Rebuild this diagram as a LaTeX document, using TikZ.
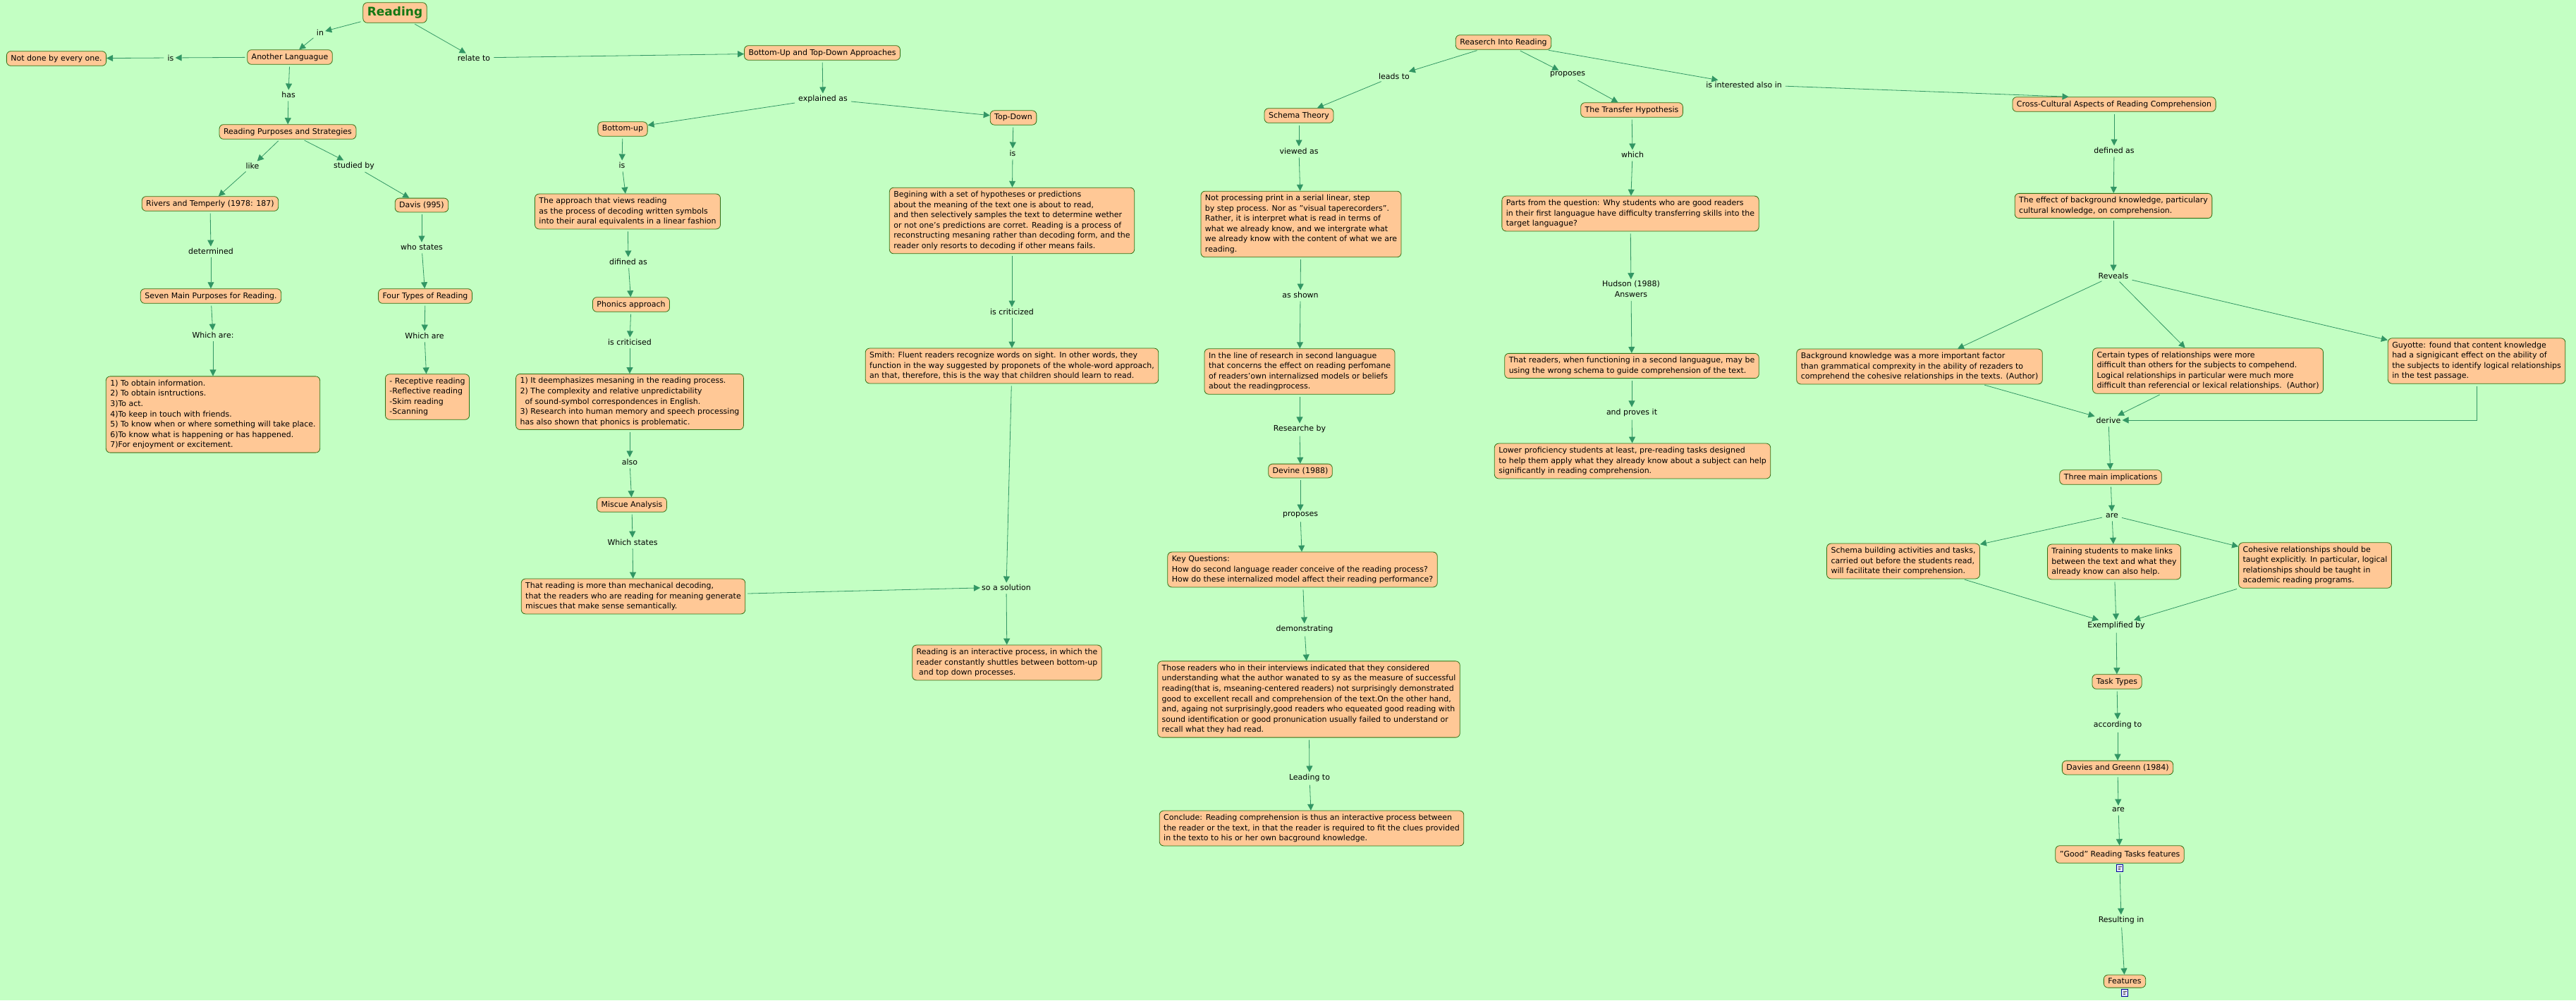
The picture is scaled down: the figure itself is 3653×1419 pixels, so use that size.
\documentclass[tikz,border=0pt]{standalone}
\usepackage{fontspec}
\setmainfont{DejaVu Sans}
\usetikzlibrary{arrows.meta}
\definecolor{bg}{RGB}{195,255,195}
\definecolor{boxfill}{RGB}{255,200,150}
\definecolor{boxline}{RGB}{50,110,20}
\definecolor{arrcol}{RGB}{50,150,100}
\definecolor{titlecol}{RGB}{20,120,20}
\newcommand{\fs}{\fontsize{11}{14.6}\selectfont}
\begin{document}
\begin{tikzpicture}[x=1pt,y=-1pt,
 box/.style={draw=boxline,fill=boxfill,rounded corners=6pt,align=left,inner xsep=6pt,inner ysep=5pt,font=\fs,line width=0.8pt},
 lbl/.style={inner sep=2pt,font=\fs,align=center},
 arr/.style={-{Triangle[length=9pt,width=9pt]},draw=arrcol,line width=0.8pt,shorten <=3pt},
 icon/.style={draw=blue!60!black,fill=blue!10,minimum width=9pt,minimum height=10pt,inner sep=0pt,line width=0.6pt}]
\fill[bg] (0,0) rectangle (3653,1419);
\useasboundingbox (0,0) rectangle (3653,1419);
% left part
\node[box,font=\fontsize{17}{20}\selectfont\bfseries,text=titlecol,inner ysep=6pt] (reading) at (560,18) {Reading};
\node[lbl] (in) at (454,46) {in};
\node[box] (another) at (411,81) {Another Languague};
\node[lbl] (is1) at (242,82) {is};
\node[box] (notdone) at (80,83) {Not done by every one.};
\node[lbl] (relate) at (672,82) {relate to};
\node[lbl] (has) at (409,134) {has};
\node[box] (rps) at (408,187) {Reading Purposes and Strategies};
\node[lbl] (like) at (358,235) {like};
\node[lbl] (studied) at (502,235) {studied by};
\node[box] (rivers) at (298,289) {Rivers and Temperly (1978: 187)};
\node[box] (davis) at (598,291) {Davis (995)};
\node[lbl] (determined) at (299,356) {determined};
\node[lbl] (whostates) at (598,350) {who states};
\node[box] (seven) at (299,420) {Seven Main Purposes for Reading.};
\node[box] (four) at (603,420) {Four Types of Reading};
\node[lbl] (whichare1) at (302,475) {Which are:};
\node[lbl] (whichare2) at (602,476) {Which are};
\node[box] (list7) at (302,588) {1) To obtain information.\\2) To obtain isntructions.\\3)To act.\\4)To keep in touch with friends.\\5) To know when or where something will take place.\\6)To know what is happening or has happened.\\7)For enjoyment or excitement.};
\node[box] (list4) at (606,563) {- Receptive reading\\-Reflective reading\\-Skim reading\\-Scanning};
% bottom-up / top-down
\node[box] (butd) at (1166,75) {Bottom-Up and Top-Down Approaches};
\node[lbl] (explained) at (1167,140) {explained as};
\node[box] (bu) at (883,183) {Bottom-up};
\node[box] (td) at (1437,167) {Top-Down};
\node[lbl] (is2) at (882,234) {is};
\node[lbl] (is3) at (1436,217) {is};
\node[box] (buapp) at (890,300) {The approach that views reading\\as the process of decoding written symbols\\into their aural equivalents in a linear fashion};
\node[box] (tdbox) at (1435,313) {Begining with a set of hypotheses or predictions\\about the meaning of the text one is about to read,\\and then selectively samples the text to determine wether\\or not one's predictions are corret. Reading is a process of\\reconstructing mesaning rather than decoding form, and the\\reader only resorts to decoding if other means fails.};
\node[lbl] (difined) at (891,371) {difined as};
\node[box] (phonics) at (895,432) {Phonics approach};
\node[lbl] (iscrit) at (1435,442) {is criticized};
\node[lbl] (iscrit2) at (893,485) {is criticised};
\node[box] (crit) at (893,570) {1) It deemphasizes mesaning in the reading process.\\2) The complexity and relative unpredictability\\\ \ of sound-symbol correspondences in English.\\3) Research into human memory and speech processing\\has also shown that phonics is problematic.};
\node[box] (smith) at (1435,519) {Smith: Fluent readers recognize words on sight. In other words, they\\function in the way suggested by proponets of the whole-word approach,\\an that, therefore, this is the way that children should learn to read.};
\node[lbl] (also) at (893,655) {also};
\node[box] (miscue) at (896,716) {Miscue Analysis};
\node[lbl] (whichstates) at (897,769) {Which states};
\node[box] (thatreading) at (898,846) {That reading is more than mechanical decoding,\\that the readers who are reading for meaning generate\\miscues that make sense semantically.};
\node[lbl] (solution) at (1427,833) {so a solution};
\node[box] (interactive) at (1428,940) {Reading is an interactive process, in which the\\reader constantly shuttles between bottom-up\\\ and top down processes.};
% research
\node[box] (research) at (2132,60) {Reaserch Into Reading};
\node[lbl] (leads) at (1977,108) {leads to};
\node[lbl] (proposes1) at (2223,106) {proposes};
\node[lbl] (interested) at (2473,120) {is interested also in};
\node[box] (schema) at (1842,164) {Schema Theory};
\node[box] (transfer) at (2314,156) {The Transfer Hypothesis};
\node[lbl] (viewed) at (1842,214) {viewed as};
\node[lbl] (which) at (2315,219) {which};
\node[box] (notproc) at (1845,318) {Not processing print in a serial linear, step\\by step process. Nor as "visual taperecorders".\\Rather, it is interpret what is read in terms of\\what we already know, and we intergrate what\\we already know with the content of what we are\\reading.};
\node[box] (parts) at (2312,303) {Parts from the question: Why students who are good readers\\in their first languague have difficulty transferring skills into the\\target languague?};
\node[lbl] (asshown) at (1844,418) {as shown};
\node[lbl] (hudson) at (2313,410) {Hudson (1988)\\Answers};
\node[box] (inline) at (1843,527) {In the line of research in second languague\\that concerns the effect on reading perfomane\\of readers'own internalizsed models or beliefs\\about the readingprocess.};
\node[box] (thatreaders) at (2314,519) {That readers, when functioning in a second languague, may be\\using the wrong schema to guide comprehension of the text.};
\node[lbl] (researche) at (1843,608) {Researche by};
\node[lbl] (proves) at (2314,585) {and proves it};
\node[box] (devine) at (1844,668) {Devine (1988)};
\node[box] (lower) at (2315,654) {Lower proficiency students at least, pre-reading tasks designed\\to help them apply what they already know about a subject can help\\significantly in reading comprehension.};
\node[lbl] (proposes2) at (1844,731) {proposes};
\node[box] (keyq) at (1847,808) {Key Questions:\\How do second language reader conceive of the reading process?\\How do these internalized model affect their reading performance?};
\node[lbl] (demonstrating) at (1850,892) {demonstrating};
\node[box] (those) at (1856,992) {Those readers who in their interviews indicated that they considered\\understanding what the author wanated to sy as the measure of successful\\reading(that is, mseaning-centered readers) not surprisingly demonstrated\\good to excellent recall and comprehension of the text.On the other hand,\\and, againg not surprisingly,good readers who equeated good reading with\\sound identification or good pronunication usually failed to understand or\\recall what they had read.};
\node[lbl] (leading) at (1857,1103) {Leading to};
\node[box] (conclude) at (1860,1175) {Conclude: Reading comprehension is thus an interactive process between\\the reader or the text, in that the reader is required to fit the clues provided\\in the texto to his or her own bacground knowledge.};
% cross-cultural
\node[box] (cross) at (2998,148) {Cross-Cultural Aspects of Reading Comprehension};
\node[lbl] (defined) at (2998,213) {defined as};
\node[box] (effect) at (2997,292) {The effect of background knowledge, particulary\\cultural knowledge, on comprehension.};
\node[lbl] (reveals) at (2997,391) {Reveals};
\node[box] (backg) at (2722,520) {Background knowledge was a more important factor\\than grammatical comprexity in the ability of rezaders to\\comprehend the cohesive relationships in the texts. (Author)};
\node[box] (certain) at (3131,526) {Certain types of relationships were more\\difficult than others for the subjects to compehend.\\Logical relationships in particular were much more\\difficult than referencial or lexical relationships.\ \ (Author)};
\node[box] (guy) at (3512,512) {Guyotte: found that content knowledge\\had a signigicant effect on the ability of\\the subjects to identify logical relationships\\in the test passage.};
\node[lbl] (derive) at (2990,596) {derive};
\node[box] (three) at (2993,677) {Three main implications};
\node[lbl] (are1) at (2995,731) {are};
\node[box] (sbuild) at (2699,796) {Schema building activities and tasks,\\carried out before the students read,\\will facilitate their comprehension.};
\node[box] (training) at (2998,797) {Training students to make links\\between the text and what they\\already know can also help.};
\node[box] (cohesive) at (3283,802) {Cohesive relationships should be\\taught explicitly. In particular, logical\\relationships should be taught in\\academic reading programs.};
\node[lbl] (exemplified) at (3001,887) {Exemplified by};
\node[box] (task) at (3002,967) {Task Types};
\node[lbl] (according) at (3003,1028) {according to};
\node[box] (davies) at (3003,1089) {Davies and Greenn (1984)};
\node[lbl] (are2) at (3004,1148) {are};
\node[box,inner ysep=7pt] (good) at (3006,1212) {"Good" Reading Tasks features};
\node[icon] (icon1) at (3006,1231) {};
\node[lbl] (resulting) at (3008,1305) {Resulting in};
\node[box] (features) at (3013,1392) {Features};
\node[icon] (icon2) at (3013,1408) {};
% connectors
\draw[arr] (reading) -- (in); \draw[arr] (in) -- (another);
\draw[arr] (another) -- (is1); \draw[arr] (is1) -- (notdone);
\draw[arr] (reading) -- (relate); \draw[arr] (relate) -- (butd);
\draw[arr] (another) -- (has); \draw[arr] (has) -- (rps);
\draw[arr] (rps) -- (like); \draw[arr] (like) -- (rivers);
\draw[arr] (rps) -- (studied); \draw[arr] (studied) -- (davis);
\draw[arr] (rivers) -- (determined); \draw[arr] (determined) -- (seven);
\draw[arr] (davis) -- (whostates); \draw[arr] (whostates) -- (four);
\draw[arr] (seven) -- (whichare1); \draw[arr] (whichare1) -- (list7);
\draw[arr] (four) -- (whichare2); \draw[arr] (whichare2) -- (list4);
\draw[arr] (butd) -- (explained); \draw[arr] (explained) -- (bu); \draw[arr] (explained) -- (td);
\draw[arr] (bu) -- (is2); \draw[arr] (is2) -- (buapp);
\draw[arr] (td) -- (is3); \draw[arr] (is3) -- (tdbox);
\draw[arr] (buapp) -- (difined); \draw[arr] (difined) -- (phonics);
\draw[arr] (phonics) -- (iscrit2); \draw[arr] (iscrit2) -- (crit);
\draw[arr] (tdbox) -- (iscrit); \draw[arr] (iscrit) -- (smith);
\draw[arr] (crit) -- (also); \draw[arr] (also) -- (miscue);
\draw[arr] (miscue) -- (whichstates); \draw[arr] (whichstates) -- (thatreading);
\draw[arr] (smith) -- (solution); \draw[arr] (thatreading) -- (solution);
\draw[arr] (solution) -- (interactive);
\draw[arr] (research) -- (leads); \draw[arr] (leads) -- (schema);
\draw[arr] (research) -- (proposes1); \draw[arr] (proposes1) -- (transfer);
\draw[arr] (research) -- (interested); \draw[arr] (interested) -- ([xshift=80pt]cross.north west);
\draw[arr] (schema) -- (viewed); \draw[arr] (viewed) -- (notproc);
\draw[arr] (transfer) -- (which); \draw[arr] (which) -- (parts);
\draw[arr] (notproc) -- (asshown); \draw[arr] (asshown) -- (inline);
\draw[arr] (parts) -- (hudson); \draw[arr] (hudson) -- (thatreaders);
\draw[arr] (inline) -- (researche); \draw[arr] (researche) -- (devine);
\draw[arr] (thatreaders) -- (proves); \draw[arr] (proves) -- (lower);
\draw[arr] (devine) -- (proposes2); \draw[arr] (proposes2) -- (keyq);
\draw[arr] (keyq) -- (demonstrating); \draw[arr] (demonstrating) -- (those);
\draw[arr] (those) -- (leading); \draw[arr] (leading) -- (conclude);
\draw[arr] (cross) -- (defined); \draw[arr] (defined) -- (effect);
\draw[arr] (effect) -- (reveals);
\draw[arr] (reveals) -- (backg); \draw[arr] (reveals) -- (certain); \draw[arr] (reveals) -- (guy);
\draw[arr] (backg) -- (derive); \draw[arr] (certain) -- (derive); \draw[arr] (guy) |- (derive);
\draw[arr] (derive) -- (three); \draw[arr] (three) -- (are1);
\draw[arr] (are1) -- (sbuild); \draw[arr] (are1) -- (training); \draw[arr] (are1) -- (cohesive);
\draw[arr] (sbuild) -- (exemplified); \draw[arr] (training) -- (exemplified); \draw[arr] (cohesive) -- (exemplified);
\draw[arr] (exemplified) -- (task); \draw[arr] (task) -- (according); \draw[arr] (according) -- (davies);
\draw[arr] (davies) -- (are2); \draw[arr] (are2) -- (good);
\draw[arr] (icon1) -- (resulting); \draw[arr] (resulting) -- (features);
\foreach \i in {icon1,icon2}{
 \draw[black!70,line width=0.5pt] ([xshift=-2.5pt,yshift=-2pt]\i.center) -- ++(3pt,0) ([xshift=-2.5pt]\i.center) -- ++(3pt,0) ([xshift=-2.5pt,yshift=2pt]\i.center) -- ++(5pt,0);}
\end{tikzpicture}
\end{document}
